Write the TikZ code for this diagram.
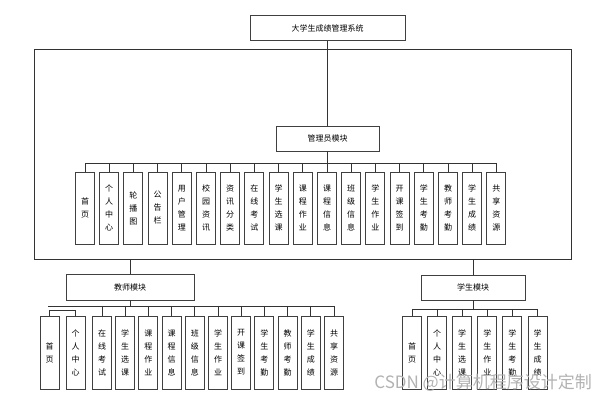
\documentclass[tikz,border=0pt]{standalone}
\usepackage{fontspec}
\newfontfamily\cjk{Noto Sans CJK SC}
\begin{document}
\begin{tikzpicture}[x=1pt,y=-1pt,
  box/.style={draw=black!75,line width=0.9pt,inner sep=0pt,font=\cjk\fontsize{8}{9}\selectfont},
  leaf/.style={draw=black!75,line width=0.9pt,inner sep=0pt,font=\cjk\fontsize{8}{13}\selectfont,align=center},
  ln/.style={draw=black!80,line width=0.8pt}]
\useasboundingbox (0,0) rectangle (606,403);
\node[box,minimum width=155pt,minimum height=25pt] (root) at (327.5,28) {大学生成绩管理系统};
\node[box,minimum width=103pt,minimum height=25pt] (adm) at (327.5,138.5) {管理员模块};
\node[box,minimum width=128pt,minimum height=26pt] (tea) at (130,287) {教师模块};
\node[box,minimum width=104pt,minimum height=25pt] (stu) at (473,287.5) {学生模块};
\coordinate (ft) at (327.5,49);
\draw[ln] (root.south) -- (ft);
\draw[ln] (34,49) rectangle (571,259);
\draw[ln] (ft) -- (adm.north);
\draw[ln] (130,259) -- (tea.north);
\draw[ln] (473,259) -- (stu.north);
% admin leaves
\foreach \t [count=\i] in {首\\页,个\\人\\中\\心,轮\\播\\图,公\\告\\栏,用\\户\\管\\理,校\\园\\资\\讯,资\\讯\\分\\类,在\\线\\考\\试,学\\生\\选\\课,课\\程\\作\\业,课\\程\\信\\息,班\\级\\信\\息,学\\生\\作\\业,开\\课\\签\\到,学\\生\\考\\勤,教\\师\\考\\勤,学\\生\\成\\绩,共\\享\\资\\源}{
  \pgfmathsetmacro\xx{85+(\i-1)*24.2}
  \node[leaf,minimum width=19pt,minimum height=72pt] (a\i) at (\xx,208) {\t};
  \draw[ln] (\xx,163) -- (a\i.north);
}
\draw[ln] (adm.south) -- (327.5,163);
\draw[ln] (a1.north |- 0,163) -- (a18.north |- 0,163);
% teacher leaves
\node[leaf,minimum width=19pt,minimum height=73pt] (t1) at (49.5,352.5) {首\\页};
\node[leaf,minimum width=19pt,minimum height=73pt] (t2) at (75.5,352.5) {个\\人\\中\\心};
\foreach \t [count=\i] in {在\\线\\考\\试,学\\生\\选\\课,课\\程\\作\\业,课\\程\\信\\息,班\\级\\信\\息,学\\生\\作\\业,开\\课\\签\\到,学\\生\\考\\勤,教\\师\\考\\勤,学\\生\\成\\绩,共\\享\\资\\源}{
  \pgfmathsetmacro\xx{102+(\i-1)*23.2}
  \node[leaf,minimum width=19pt,minimum height=73pt] (tt\i) at (\xx,352.5) {\t};
  \draw[ln] (\xx,306) -- (tt\i.north);
}
\draw[ln] (tea.south) -- (130,306);
\draw[ln] (48,306) -- (tt11.north |- 0,306);
\draw[ln] (t1.north) -- (49.5,310) -- (75.5,310) -- (t2.north);
% student leaves
\foreach \t [count=\i] in {首\\页,个\\人\\中\\心,学\\生\\选\\课,学\\生\\作\\业,学\\生\\考\\勤,学\\生\\成\\绩}{
  \pgfmathsetmacro\xx{412+(\i-1)*25.1}
  \node[leaf,minimum width=19pt,minimum height=73pt] (s\i) at (\xx,352.5) {\t};
  \draw[ln] (\xx,309) -- (s\i.north);
}
\draw[ln] (stu.south) -- (473,309);
\draw[ln] (s1.north |- 0,309) -- (s6.north |- 0,309);
\node[font=\cjk\fontsize{17}{19}\selectfont,text=black!30,anchor=east,inner sep=0pt] (wm) at (592,383) {CSDN @计算机程序设计定制};
\end{tikzpicture}
\end{document}
